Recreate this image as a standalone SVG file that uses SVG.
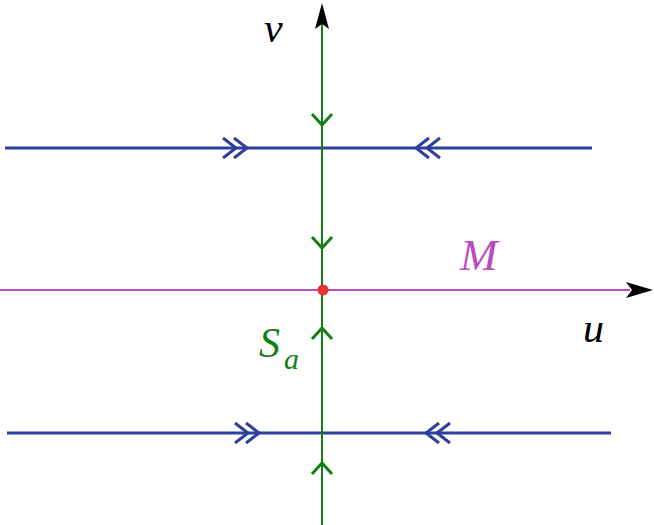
<svg xmlns="http://www.w3.org/2000/svg" width="654" height="525" viewBox="0 0 654 525">
<style>
.blue{stroke:#2e3f9c;stroke-width:3;fill:none}
.green{stroke:#138013;stroke-width:2;fill:none}
.gchev{stroke:#138013;stroke-width:3;fill:none;stroke-linecap:butt}
.bchev{stroke:#2e3f9c;stroke-width:3;fill:none}
.mag{stroke:#bb4cbb;stroke-width:2;fill:none}
</style>
<rect width="654" height="525" fill="#fff"/>
<g id="connectors">
<line class="mag" x1="0" y1="290" x2="630" y2="290"/>
<path d="M653,290 L626,282 L632,290 L626,298 Z" fill="#000"/>
<line class="blue" x1="5" y1="148" x2="592" y2="148"/>
<line class="blue" x1="7" y1="433" x2="611" y2="433"/>
<line class="green" x1="322" y1="525" x2="322" y2="20"/>
<path d="M322,3 L315,29 L322,24 L329,29 Z" fill="#000"/>
</g>
<g id="arrows-top">
<path class="bchev" d="M223,138 L236,148 L223,158 M234,138 L247,148 L234,158"/>
<path class="bchev" d="M429,138 L416,148 L429,158 M440,138 L427,148 L440,158"/>
<path class="gchev" d="M312,114 L322,125 L332,114"/>
<path class="gchev" d="M312,237 L322,248 L332,237"/>
</g>
<g id="arrows-bottom">
<path class="bchev" d="M235,423 L248,433 L235,443 M246,423 L259,433 L246,443"/>
<path class="bchev" d="M439,423 L426,433 L439,443 M450,423 L437,433 L450,443"/>
<path class="gchev" d="M312,339 L322,328 L332,339"/>
<path class="gchev" d="M312,474 L322,463 L332,474"/>
</g>
<g id="origin">
<circle cx="323" cy="290" r="5.5" fill="#e8322a"/>
</g>
<g id="labels" font-family="'Liberation Serif','DejaVu Serif','Times New Roman',serif" font-style="italic" font-size="42">
<text x="264" y="42" fill="#000">v</text>
<text x="583" y="342" fill="#000">u</text>
<text x="460" y="270" fill="#bb4cbb" font-size="45">M</text>
<text x="259" y="357" fill="#138013">S<tspan font-size="30" dx="4" dy="12">a</tspan></text>
</g>
</svg>
